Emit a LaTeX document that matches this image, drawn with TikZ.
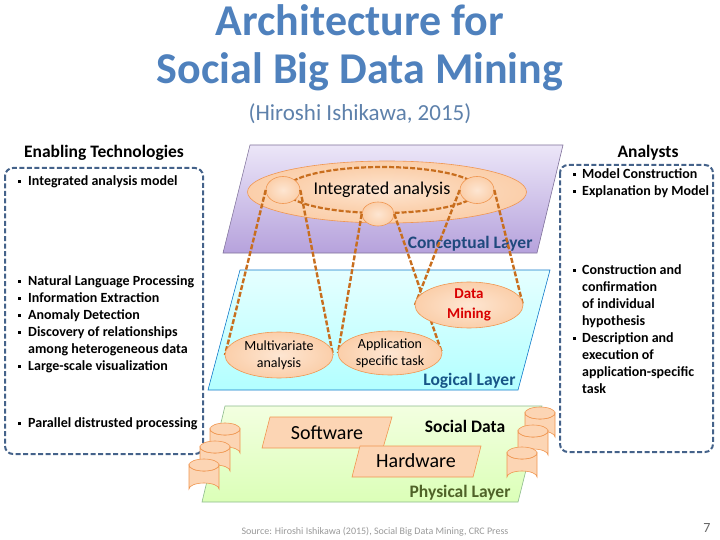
\documentclass[tikz,border=0pt]{standalone}
\usepackage{fontspec}
\setmainfont{Carlito}
\usetikzlibrary{shapes.geometric}
\definecolor{ttl}{RGB}{79,129,189}
\definecolor{boxc}{RGB}{68,98,138}
\definecolor{orf}{RGB}{252,213,180}
\definecolor{orb}{RGB}{240,150,80}
\definecolor{ord}{RGB}{200,110,30}
\definecolor{conc}{RGB}{31,73,125}
\definecolor{logc}{RGB}{23,85,135}
\definecolor{phyc}{RGB}{79,98,40}
\definecolor{lavt}{RGB}{236,230,248}
\definecolor{lavb}{RGB}{182,162,220}
\newcommand{\bul}{\vrule width 3pt height 5.5pt depth -2.5pt}
\tikzset{
 txt/.style={anchor=west,inner sep=0pt,font=\fontsize{14}{17}\selectfont\bfseries,align=left},
 dbox/.style={draw=boxc,line width=2pt,dash pattern=on 5pt off 2.5pt,rounded corners=8pt},
 ell/.style={ellipse,draw=orb,line width=0.6pt,inner sep=0pt,inner color=white!40!orf,outer color=orf!90!orb},
 conn/.style={draw=ord,line width=2.4pt,dash pattern=on 5pt off 2pt},
 cylb/.style={draw=orb,fill=orf,line width=0.6pt},
 para/.style={draw=orb,fill=orf,line width=0.6pt}
}
\begin{document}
\begin{tikzpicture}[x=1pt,y=-1pt]
\useasboundingbox (0,0) rectangle (720,540);
% titles
\node[text=ttl,font=\fontsize{44}{48}\selectfont\bfseries] (t1) at (360,20) {Architecture for};
\node[text=ttl,font=\fontsize{44}{48}\selectfont\bfseries] (t2) at (360,72) {Social Big Data Mining};
\node[text=ttl!70!gray,font=\fontsize{23}{26}\selectfont] (t3) at (360,114) {(Hiroshi Ishikawa, 2015)};
% side boxes
\node[font=\fontsize{17.5}{20}\selectfont\bfseries] (et) at (104,153) {Enabling Technologies};
\node[font=\fontsize{17.5}{20}\selectfont\bfseries] (an) at (648,153) {Analysts};
\draw[dbox] (5,168) rectangle (203,454);
\draw[dbox] (560,165) rectangle (713,452);
% layers
\path[top color=lavt,bottom color=lavb,draw=lavb!70!black,line width=0.6pt] (250,145) -- (563,145) -- (537,253) -- (223,253) -- cycle;
\path[top color=cyan!10,bottom color=cyan!30,draw=cyan!60!blue,line width=0.6pt] (240,270) -- (550,270) -- (518,390) -- (208,390) -- cycle;
\path[top color=green!40!yellow!12,bottom color=green!50!yellow!28,draw=green!40!black!45,line width=0.6pt] (225,406) -- (542,406) -- (518,502) -- (202,502) -- cycle;
\node[anchor=east,text=conc,font=\fontsize{17.5}{20}\selectfont\bfseries] (cl) at (536,244) {Conceptual Layer};
\node[anchor=east,text=logc,font=\fontsize{17.5}{20}\selectfont\bfseries] (ll) at (519,381) {Logical Layer};
\node[anchor=east,text=phyc,font=\fontsize{17.5}{20}\selectfont\bfseries] (pl) at (514,493) {Physical Layer};
% physical
\foreach \x/\y in {225/441,215/459,204/477,540/425,533/443,522/465}{
  \path[cylb] (\x-15,\y-12) -- (\x-15,\y+12) arc[start angle=180,end angle=360,x radius=15,y radius=6] -- (\x+15,\y-12) arc[start angle=0,end angle=180,x radius=15,y radius=6] -- cycle;
  \path[cylb] (\x,\y-12) ellipse[x radius=15,y radius=6];
}
\path[para] (270,417) -- (392,417) -- (383,448) -- (262,448) -- cycle;
\path[para] (360,446) -- (481,446) -- (473,477) -- (352,477) -- cycle;
\node[font=\fontsize{20}{22}\selectfont] (sw) at (327,433) {Software};
\node[font=\fontsize{20}{22}\selectfont] (hw) at (416,461) {Hardware};
\node[font=\fontsize{17.5}{20}\selectfont\bfseries] (sd) at (465,426) {Social Data};
% conceptual ellipses
\node[ell,minimum width=279pt,minimum height=62pt] (big) at (387,192) {};
\node[ell,draw=ord,line width=2.2pt,dash pattern=on 5pt off 2pt,minimum width=160pt,minimum height=46pt,font=\fontsize{18}{20}\selectfont] (ia) at (382,190) {Integrated analysis};
\node[ell,minimum width=34pt,minimum height=27pt] (sl) at (283,190) {};
\node[ell,minimum width=34pt,minimum height=27pt] (sr) at (477,190) {};
\node[ell,minimum width=32pt,minimum height=24pt] (sb) at (378,214) {};
% logical ellipses positions
\coordinate (mvW) at (225,355); \coordinate (mvE) at (333,355);
\coordinate (apW) at (338,353); \coordinate (apE) at (442,353);
\coordinate (dmW) at (415,305); \coordinate (dmE) at (523,305);
\draw[conn] (sl.west) -- (mvW);
\draw[conn] (sl.east) -- (mvE);
\draw[conn] (sb.west) -- (apW);
\draw[conn] (sb.east) -- (apE);
\draw[conn] (sr.west) -- (dmW);
\draw[conn] (sr.east) -- (dmE);
\node[ell,minimum width=108pt,minimum height=46pt,align=center,font=\fontsize{14}{17}\selectfont] (mv) at (279,355) {Multivariate\\analysis};
\node[ell,minimum width=104pt,minimum height=44pt,align=center,font=\fontsize{14}{17}\selectfont] (ap) at (390,353) {Application\\specific task};
\node[ell,minimum width=108pt,minimum height=46pt,align=center,text=red!85!black,font=\fontsize{15}{20}\selectfont\bfseries] (dm) at (469,305) {Data\\Mining};
% left texts
\node[txt] (l1) at (18,182) {\bul\hspace{7pt}Integrated analysis model};
\node[txt,anchor=north west] (l2) at (18,275) {\bul\hspace{7pt}Natural Language Processing\\\bul\hspace{7pt}Information Extraction\\\bul\hspace{7pt}Anomaly Detection\\\bul\hspace{7pt}Discovery of relationships\\\hspace{10pt}among heterogeneous data\\\bul\hspace{7pt}Large-scale visualization};
\node[txt] (l3) at (18,424) {\bul\hspace{7pt}Parallel distrusted processing};
% right texts
\node[txt,anchor=north west] (r1) at (573,168) {\bul\hspace{6pt}Model Construction\\\bul\hspace{6pt}Explanation by Model};
\node[txt,anchor=north west] (r2) at (573,264) {\bul\hspace{6pt}Construction and\\\hspace{9pt}confirmation\\\hspace{9pt}of individual\\\hspace{9pt}hypothesis\\\bul\hspace{6pt}Description and\\\hspace{9pt}execution of\\\hspace{9pt}application-specific\\\hspace{9pt}task};
% footer
\node[text=gray!80,font=\fontsize{10}{12}\selectfont] (src) at (375,532) {Source: Hiroshi Ishikawa (2015), Social Big Data Mining, CRC Press};
\node[text=gray!80!black,font=\fontsize{14}{16}\selectfont] (pg) at (707,528) {7};
\end{tikzpicture}
\end{document}
